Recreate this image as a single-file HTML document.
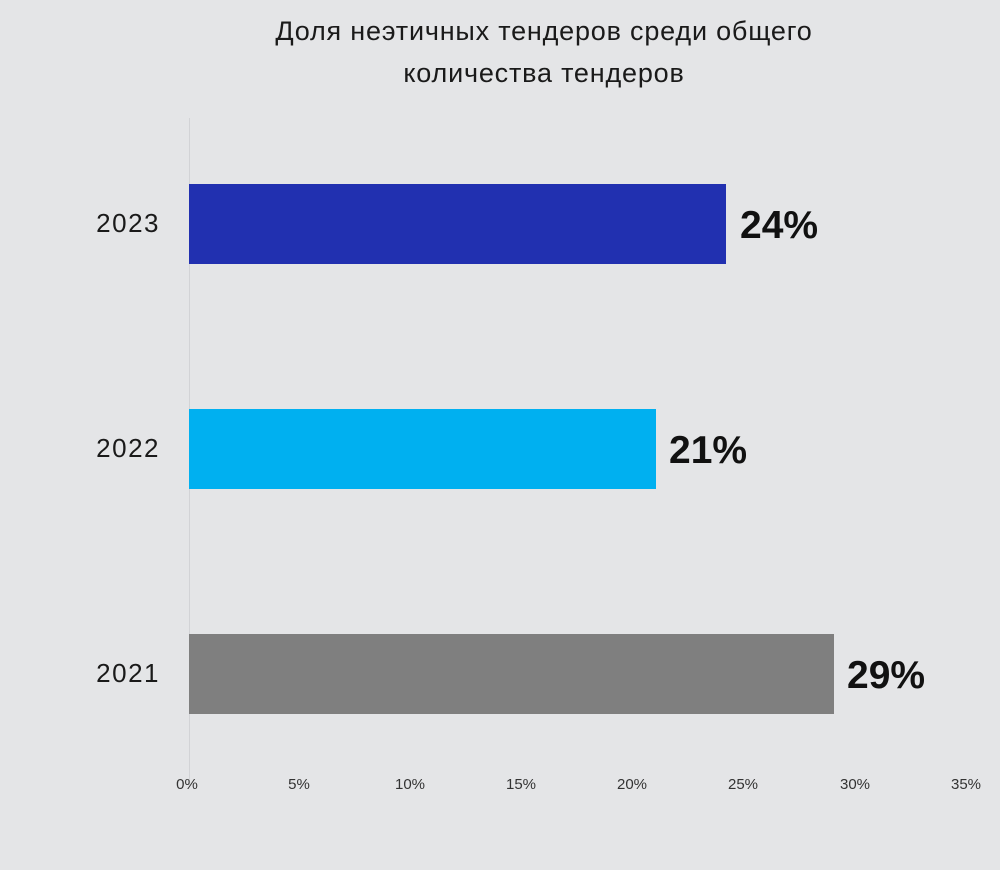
<!DOCTYPE html>
<html><head><meta charset="utf-8"><style>
body{margin:0;width:1000px;height:870px;background:#e4e5e7;position:relative;overflow:hidden;font-family:"Liberation Sans","DejaVu Sans",sans-serif;}
.t{position:absolute;left:0;width:1088px;text-align:center;font-size:27px;letter-spacing:0.8px;color:#1a1a1a;line-height:42px;top:10px}
.bar{position:absolute;left:189px;height:80px}
.y{position:absolute;left:50px;width:110px;text-align:right;font-size:26px;letter-spacing:1.5px;color:#1a1a1a}
.v{position:absolute;font-size:39px;font-weight:bold;color:#111}
.x{position:absolute;top:776px;font-size:15px;color:#333;width:60px;text-align:center}
</style></head><body>
<div class="t">Доля неэтичных тендеров среди общего<br>количества тендеров</div>
<div style="position:absolute;left:189px;top:118px;width:1px;height:667px;background:#d2d3d6"></div>
<div class="bar" style="top:184px;width:537px;background:#2130b0"></div>
<div class="bar" style="top:409px;width:467px;background:#00b0f0"></div>
<div class="bar" style="top:634px;width:645px;background:#7f7f7f"></div>
<div class="y" style="top:208px">2023</div>
<div class="y" style="top:433px">2022</div>
<div class="y" style="top:658px">2021</div>
<div class="v" style="left:740px;top:204px">24%</div>
<div class="v" style="left:669px;top:429px">21%</div>
<div class="v" style="left:847px;top:654px">29%</div>
<div class="x" style="left:157px">0%</div>
<div class="x" style="left:269px">5%</div>
<div class="x" style="left:380px">10%</div>
<div class="x" style="left:491px">15%</div>
<div class="x" style="left:602px">20%</div>
<div class="x" style="left:713px">25%</div>
<div class="x" style="left:825px">30%</div>
<div class="x" style="left:936px">35%</div>
</body></html>
